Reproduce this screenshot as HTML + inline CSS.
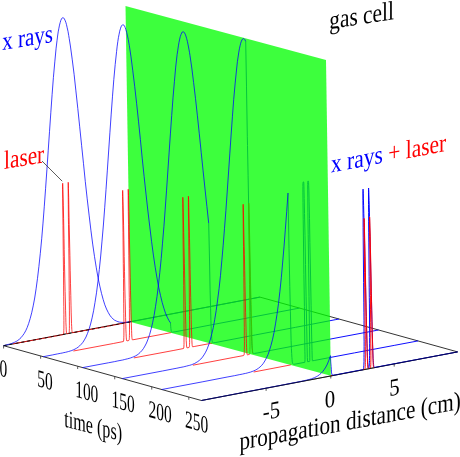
<!DOCTYPE html><html><head><meta charset="utf-8"><style>html,body{margin:0;padding:0;background:#fff;overflow:hidden}body{width:460px;height:457px;position:relative}</style></head><body><svg width="460" height="457" viewBox="0 0 460 457" style="position:absolute;left:0;top:0">
<rect width="460" height="457" fill="#fff"/>
<path d="M3.6,345.7L201.4,400.5L457.6,351.9L259.9,297.1 Z" fill="none" stroke="#000" stroke-width="0.8"/>
<path d="M3.60,345.70 l0,2.8" stroke="#333" stroke-width="0.8"/>
<path d="M40.64,355.96 l0,2.8" stroke="#333" stroke-width="0.8"/>
<path d="M77.68,366.22 l0,2.8" stroke="#333" stroke-width="0.8"/>
<path d="M114.72,376.49 l0,2.8" stroke="#333" stroke-width="0.8"/>
<path d="M151.76,386.75 l0,2.8" stroke="#333" stroke-width="0.8"/>
<path d="M188.81,397.01 l0,2.8" stroke="#333" stroke-width="0.8"/>
<path d="M266.10,388.10 l0,2.8" stroke="#333" stroke-width="0.8"/>
<path d="M330.80,375.70 l0,2.8" stroke="#333" stroke-width="0.8"/>
<path d="M394.20,363.80 l0,2.8" stroke="#333" stroke-width="0.8"/>
<g fill="none" stroke-width="0.95" stroke-linejoin="round">
<path d="M130.6,321.7L131.5,321.7L171.0,314.1L211.4,306.4L251.8,298.7L259.9,297.1" stroke="#0000ff"/>
<path d="" stroke="#ff0000"/>
<path d="M170.5,322.9L170.7,326.2L170.9,328.4L171.1,329.9L171.2,330.8L171.4,331.4L171.6,331.7L171.9,332.1L172.3,332.2L175.1,331.8L215.7,324.0L256.0,316.4L296.2,308.7L299.4,308.1" stroke="#0000ff"/>
<path d="M170.6,332.7L171.4,332.5" stroke="#ff0000"/>
<path d="M208.7,223.1L209.6,264.0L210.1,290.9L210.6,308.7L210.9,320.5L211.2,328.2L211.4,333.3L211.7,336.7L211.8,338.9L212.0,340.3L212.3,341.5L212.5,342.2L212.8,342.7L213.3,342.8L215.2,342.6L255.6,334.9L295.7,327.3L335.8,319.6L339.0,319.0" stroke="#0000ff"/>
<path d="M210.7,343.4L212.4,343.1" stroke="#ff0000"/>
<path d="M245.7,41.4L246.5,86.9L247.3,136.2L247.5,145.5L248.1,175.8L248.7,208.2L248.8,214.5L249.2,234.8L249.6,256.8L249.7,260.9L250.0,274.5L250.3,288.9L250.5,300.8L250.8,312.5L251.0,318.5L251.2,326.3L251.3,330.2L251.5,335.5L251.6,338.1L251.8,341.6L251.8,343.3L252.0,345.7L252.2,348.4L252.4,350.2L252.6,351.7L252.9,352.8L253.4,353.4L254.6,353.4L257.1,353.0L297.0,345.4L337.0,337.8L376.9,330.3L378.5,330.0" stroke="#0000ff"/>
<path d="M248.5,354.6L249.3,354.4L249.5,354.2L249.7,353.7L249.8,353.2L249.8,352.5L249.9,351.3L249.9,349.4L250.0,346.8L250.0,343.0L250.0,337.8L249.9,331.0L249.9,322.3L249.8,311.7L249.7,299.0L249.5,284.8L249.3,266.2L249.2,253.9L249.0,235.5L248.9,225.1L248.8,214.2L248.7,212.2L248.7,206.7L248.7,203.2L248.7,203.1L248.8,204.2L249.0,209.5L249.0,211.3L249.2,218.6L249.5,231.0L249.8,245.3L250.4,276.2L250.8,294.5L251.1,304.7L251.3,316.3L251.6,326.1L251.8,334.0L251.9,340.0L252.1,345.3L252.2,347.6L252.4,350.3L252.4,351.4L252.5,352.5L252.7,353.4L252.9,353.7" stroke="#ff0000"/>
<path d="M288.0,193.0L289.0,248.8L289.8,286.3L290.4,311.8L290.8,329.0L291.1,340.5L291.4,348.4L291.7,353.7L291.9,357.3L292.1,359.6L292.2,361.2L292.4,362.3L292.6,363.0L292.7,363.5L293.1,364.0L293.5,364.3L295.1,364.1L304.8,362.3L304.9,362.2L304.9,361.9L305.0,359.6L305.0,354.9L304.9,351.8L304.7,334.0L304.4,306.7L303.9,274.5L303.5,244.0L303.2,219.2L303.0,202.4L302.9,192.1L302.9,186.4L302.9,183.7L303.0,182.5L303.0,182.1L303.5,181.9L303.7,182.2L303.8,183.1L303.9,185.2L304.0,189.8L304.2,198.5L304.5,213.4L305.0,235.5L305.5,264.5L306.1,296.8L306.7,326.7L307.1,347.3L307.3,357.6L307.5,361.0L307.6,361.7L309.6,361.4L309.7,361.3L309.8,360.6L309.8,357.2L309.7,346.6L309.4,325.9L309.0,296.5L308.6,264.1L308.2,234.7L307.9,212.6L307.8,197.9L307.7,189.1L307.7,184.4L307.7,182.3L307.8,181.4L307.9,181.0L308.3,181.0L308.4,181.1L308.5,181.4L308.6,182.6L308.7,185.3L308.9,190.9L309.1,201.2L309.5,218.3L309.9,242.6L310.5,273.0L311.1,305.2L311.6,333.0L312.0,350.4L312.2,358.2L312.3,360.5L312.4,360.8L314.8,360.4L354.4,352.9L394.2,345.4L418.1,340.9" stroke="#0000ff"/>
<path d="M330.5,355.7L330.7,362.0L331.0,366.3L331.2,369.2L331.3,371.2L331.5,372.6L331.7,373.5L331.8,374.1L332.0,374.5L332.4,375.0L332.9,375.2L335.2,374.9L360.9,370.0L362.8,369.7L363.2,369.4L363.4,369.0L363.6,368.3L363.7,367.2L363.8,365.4L363.9,364.1L364.0,361.5L364.0,357.7L364.0,354.6L364.1,350.9L364.1,346.4L364.1,341.2L364.0,335.3L364.0,328.5L364.0,320.7L363.9,312.2L363.8,302.9L363.7,293.0L363.6,282.3L363.3,249.0L363.2,237.9L363.1,227.4L363.1,217.8L363.0,209.1L362.9,200.6L362.9,196.0L362.9,191.8L363.0,189.5L363.1,189.1L363.2,190.5L363.3,193.8L363.4,198.9L363.6,205.6L363.8,213.6L364.1,222.7L364.3,233.0L364.6,243.7L365.3,277.1L365.6,287.9L365.8,298.1L366.0,307.6L366.3,316.6L366.5,324.6L366.7,331.8L366.8,338.1L367.0,343.7L367.2,348.4L367.3,352.4L367.4,355.8L367.6,358.6L367.7,360.8L367.8,362.6L367.9,364.1L368.1,366.1L368.2,367.2L368.4,367.9L368.6,368.2L368.9,368.1L369.1,367.5L369.2,366.5L369.3,365.0L369.4,363.8L369.5,362.3L369.5,360.5L369.5,358.2L369.6,355.3L369.6,352.0L369.6,347.9L369.6,343.2L369.6,337.6L369.6,331.2L369.5,324.0L369.5,316.0L369.4,303.1L369.3,297.4L369.2,287.2L369.1,276.4L368.8,242.9L368.7,232.2L368.6,221.9L368.6,212.7L368.5,204.6L368.5,198.0L368.5,192.8L368.5,189.5L368.6,188.0L368.6,188.4L368.8,190.7L368.9,194.9L369.1,200.6L369.3,207.9L369.5,216.6L369.7,227.9L370.0,236.6L370.7,270.0L371.0,280.9L371.2,291.6L371.5,301.5L371.7,310.7L371.9,319.2L372.1,326.9L372.3,333.7L372.5,339.7L372.6,344.8L372.8,349.3L372.9,353.0L373.0,356.0L373.1,358.6L373.3,360.6L373.4,362.3L373.6,364.6L373.7,366.0L373.9,366.7L374.1,367.3L374.8,367.4L414.8,359.9L454.4,352.5L457.6,351.9" stroke="#0000ff"/>
<path d="M330.8,375.7L332.0,375.5M363.6,369.5L364.7,369.3L364.9,369.1L365.0,368.7L365.1,368.3L365.2,367.6L365.2,366.5L365.3,364.8L365.3,362.3L365.3,358.9L365.3,354.0L365.3,346.2L365.3,339.3L365.2,329.1L365.0,316.8L364.9,303.0L364.7,287.9L364.6,272.3L364.4,256.8L364.2,242.8L364.1,231.2L364.1,222.9L364.1,218.5L364.1,218.5L364.3,222.8L364.5,231.1L364.8,242.9L365.1,256.9L365.4,272.1L365.7,287.7L366.0,303.0L366.3,316.7L366.6,328.8L366.9,339.0L367.1,347.3L367.2,353.7L367.4,358.5L367.5,361.9L367.6,364.4L367.8,366.0L367.8,367.1L367.9,367.7L368.1,368.4L368.3,368.6M369.1,368.5L370.2,368.3L370.5,368.0L370.6,367.5L370.7,367.0L370.7,366.1L370.8,364.8L370.8,362.8L370.9,359.9L370.9,355.8L370.9,350.3L370.8,343.1L370.8,333.8L370.7,322.8L370.5,309.9L370.4,295.4L370.0,264.2L369.9,249.4L369.7,236.3L369.6,225.9L369.6,219.3L369.6,218.6L369.6,216.9L369.7,218.9L369.9,225.1L370.2,235.0L370.4,247.8L370.8,262.7L371.4,293.6L371.7,308.2L372.0,321.4L372.3,332.7L372.5,341.9L372.7,349.3L372.9,355.0L373.0,359.1L373.1,362.1L373.2,364.1L373.3,365.5L373.4,366.4L373.6,367.2L373.8,367.6" stroke="#ff0000"/>
</g>
<path d="M125.5,6.0L326.0,60.0L330.8,375.7L130.6,321.9 Z" fill="#00ff00" fill-opacity="0.76"/>
<g fill="none" stroke-width="0.75" stroke-linejoin="round">
<path d="M3.6,345.6L5.2,345.2L6.8,344.9L8.4,344.4L9.9,344.0L11.5,343.5L13.1,342.9L14.7,342.2L16.3,341.4L17.8,340.4L19.4,339.2L21.0,337.7L22.5,335.8L24.1,333.6L25.7,330.8L27.2,327.5L28.7,323.4L30.2,318.5L31.7,312.8L33.2,305.9L34.7,298.0L36.1,288.8L37.5,278.3L38.9,266.5L40.3,253.3L41.7,238.8L43.0,223.1L44.3,206.2L45.6,188.3L46.9,169.8L48.2,150.8L49.5,131.7L50.8,112.8L52.1,94.6L53.4,77.5L54.8,61.9L56.1,48.2L57.0,40.7L57.6,36.0L58.2,31.9L58.9,28.2L59.5,25.1L60.2,22.5L60.8,20.4L61.5,18.9L62.2,18.0L62.8,17.6L63.6,17.9L64.3,18.8L65.0,20.2L65.8,22.2L66.5,24.7L67.2,27.8L68.0,31.3L68.7,35.4L69.2,38.4L70.4,46.0L72.2,59.2L74.1,74.3L75.9,90.9L77.8,108.5L79.7,126.8L81.6,145.3L83.5,163.7L85.3,181.6L87.2,198.8L89.1,215.1L90.9,230.2L92.7,244.1L94.5,256.6L96.3,267.8L98.0,277.6L99.8,286.1L101.5,293.4L103.2,299.6L104.8,304.8L106.5,309.0L108.2,312.4L109.8,315.2L111.4,317.3L113.0,318.9L114.6,320.2L116.3,321.0L117.9,321.7L119.5,322.1L121.1,322.3L122.6,322.4L124.2,322.4L125.8,322.3L127.4,322.1L129.0,322.0L130.6,321.7" stroke="#0000ff"/>
<path d="M13.1,343.9L52.8,336.5L63.0,334.6L63.3,334.4L63.6,334.0L63.7,332.9L63.8,332.0L63.8,330.4L63.9,328.2L63.9,324.9L63.9,320.4L63.9,314.3L63.8,306.5L63.7,296.8L63.6,285.1L63.5,271.4L63.3,256.6L63.0,225.4L62.8,211.0L62.7,198.8L62.6,189.7L62.6,184.3L62.7,183.3L62.8,186.7L63.0,194.1L63.3,205.2L63.6,218.7L64.0,238.4L64.2,249.4L64.5,264.8L64.8,278.9L65.1,291.4L65.4,302.0L65.6,310.8L65.8,317.6L65.9,322.7L66.1,326.4L66.2,329.1L66.3,330.9L66.4,332.1L66.5,332.8L66.6,333.5L66.9,333.8L68.7,333.5L69.0,333.2L69.2,332.8L69.2,332.3L69.3,331.5L69.3,330.3L69.4,328.5L69.4,325.8L69.4,322.0L69.4,316.9L69.4,310.1L69.3,301.3L69.2,290.6L69.1,278.1L69.0,264.0L68.8,248.5L68.5,224.7L68.4,217.8L68.3,204.3L68.2,193.2L68.2,185.7L68.2,182.3L68.3,183.2L68.4,188.6L68.7,197.7L68.9,209.9L69.2,224.2L69.9,255.4L70.2,270.2L70.5,283.8L70.8,295.5L71.0,305.2L71.2,312.9L71.4,319.0L71.5,323.5L71.7,326.7L71.8,329.4L71.9,330.4L72.0,331.4L72.1,332.4L72.4,332.7L74.0,332.5L114.7,324.9L122.7,323.4" stroke="#ff0000"/>
<path d="M43.2,356.7L52.7,354.9L57.5,353.9L60.7,353.3L62.3,353.0L63.9,352.6L65.5,352.3L67.1,351.9L68.6,351.5L70.2,351.0L71.8,350.5L73.4,349.8L75.0,349.1L76.6,348.2L78.2,347.1L79.7,345.8L81.3,344.2L82.9,342.3L84.4,339.9L86.0,337.0L87.5,333.4L89.1,329.1L90.6,324.0L92.1,317.9L93.6,310.7L95.0,302.4L96.5,292.8L97.9,281.9L99.3,269.6L100.7,256.0L102.0,241.1L103.4,225.0L104.7,207.8L106.0,189.7L107.3,170.9L109.9,132.8L111.2,114.1L112.5,96.2L113.8,79.6L115.2,64.5L116.6,51.4L117.2,46.1L117.8,41.7L118.4,37.7L119.1,34.2L119.7,31.2L120.4,28.8L121.0,26.9L121.7,25.6L122.4,24.9L123.1,24.7L123.8,25.1L124.5,26.1L125.2,27.6L125.9,29.7L126.7,32.4L127.5,36.0L128.3,39.7L129.0,43.9L129.3,45.4L131.0,56.9L132.8,70.8L134.7,86.4L136.6,103.3L138.5,121.2L140.4,139.6L142.2,158.1L144.1,176.4L146.0,194.1L147.9,211.0L149.8,226.9L151.6,241.7L153.4,255.1L155.2,267.2L157.0,278.0L158.7,287.4L160.5,295.5L162.2,302.5L163.9,308.3L165.5,313.2L167.2,317.1L168.8,320.3L170.5,322.9" stroke="#0000ff"/>
<path d="M73.4,351.0L113.3,343.5L123.0,341.6L123.4,341.5L123.6,341.0L123.7,340.0L123.8,339.0L123.8,337.5L123.9,335.2L123.9,332.0L123.9,327.5L123.9,321.4L123.8,313.5L123.7,303.8L123.6,291.7L123.5,278.5L123.3,263.6L123.0,232.6L122.8,218.0L122.7,205.8L122.6,196.7L122.6,191.4L122.7,190.4L122.8,193.8L123.0,201.2L123.3,212.1L123.6,225.8L123.9,240.9L124.2,256.5L124.5,271.7L124.8,286.0L125.1,298.5L125.4,309.1L125.6,317.7L125.8,324.6L125.9,329.7L126.1,333.5L126.2,336.1L126.3,337.9L126.4,339.1L126.5,339.9L126.6,340.6L127.0,340.9L128.7,340.5L129.0,340.3L129.2,339.7L129.3,338.6L129.4,337.4L129.4,335.5L129.5,332.9L129.5,329.1L129.5,323.9L129.4,317.1L129.4,308.4L129.3,297.7L129.1,285.1L129.0,271.0L128.8,255.8L128.6,239.9L128.5,224.8L128.3,211.3L128.2,200.3L128.2,192.7L128.2,189.3L128.3,190.3L128.5,195.6L128.7,204.8L129.0,217.0L129.3,231.3L129.9,262.5L130.2,277.3L130.5,290.7L130.8,302.5L131.0,312.2L131.2,320.0L131.4,326.0L131.6,330.6L131.7,333.8L131.8,336.0L131.9,337.5L132.0,338.4L132.2,339.4L132.4,339.8L134.0,339.6L170.6,332.7" stroke="#ff0000"/>
<path d="M82.7,367.6L108.3,362.8L114.7,361.6L117.9,360.9L121.1,360.3L122.7,360.0L124.3,359.6L125.9,359.2L127.5,358.8L129.1,358.4L130.7,357.9L132.3,357.3L133.9,356.7L135.5,355.9L137.1,355.0L138.7,353.8L140.2,352.4L141.8,350.7L143.4,348.6L144.9,346.1L146.5,343.0L148.0,339.2L149.6,334.6L151.1,329.2L152.6,322.8L154.1,315.3L155.5,306.6L157.0,296.6L158.4,285.2L159.8,272.6L161.2,258.6L162.5,243.2L163.9,226.8L165.2,209.2L166.5,190.9L167.8,172.0L169.1,152.9L170.4,133.9L171.7,115.5L173.0,97.9L174.4,81.7L175.7,67.1L177.1,54.7L177.8,50.1L178.4,45.9L179.0,42.3L179.7,39.1L180.3,36.5L181.0,34.5L181.7,33.0L182.3,32.0L183.0,31.7L183.7,31.9L184.4,32.7L185.2,34.1L185.9,36.0L186.6,38.4L187.4,41.4L188.1,44.9L188.9,49.0L189.5,52.4L190.0,55.6L191.8,68.0L193.6,82.5L195.5,98.5L197.4,115.8L199.3,133.8L201.2,152.3L203.1,170.8L205.0,188.9L206.9,206.4L208.7,223.1" stroke="#0000ff"/>
<path d="M133.9,357.9L173.9,350.4L183.1,348.6L183.5,348.5L183.7,348.0L183.9,347.0L183.9,346.0L184.0,344.5L184.0,342.2L184.0,339.0L184.1,334.5L184.0,328.4L184.0,320.5L183.9,310.8L183.8,299.1L183.7,285.6L183.5,270.6L183.1,239.6L183.0,225.2L182.9,212.8L182.8,207.8L182.8,203.7L182.8,198.4L182.8,197.3L183.0,200.8L183.2,208.2L183.4,219.1L183.7,232.6L184.0,247.9L184.4,263.5L184.7,278.7L185.0,292.9L185.3,305.5L185.5,316.1L185.8,324.8L185.9,331.5L186.1,336.8L186.2,340.5L186.4,343.1L186.5,344.9L186.6,346.1L186.7,347.0L186.8,347.6L187.1,347.8L188.9,347.5L189.2,347.3L189.4,346.8L189.4,346.3L189.5,345.6L189.5,344.3L189.6,342.5L189.6,339.9L189.6,336.1L189.6,330.9L189.6,324.1L189.5,315.4L189.4,304.6L189.3,292.1L189.2,277.9L189.0,262.7L188.8,246.8L188.7,231.7L188.5,218.2L188.4,207.3L188.4,199.7L188.4,196.3L188.5,197.3L188.7,202.5L188.9,211.8L189.2,224.0L189.5,238.3L190.1,269.5L190.4,284.3L190.7,297.7L191.0,309.4L191.2,319.3L191.4,327.0L191.6,333.0L191.8,337.5L191.9,340.7L192.0,343.0L192.1,344.5L192.2,345.4L192.4,346.4L192.6,346.8L194.2,346.5L210.7,343.4" stroke="#ff0000"/>
<path d="M122.3,378.6L162.4,371.0L172.1,369.1L176.9,368.2L180.1,367.5L183.3,366.9L184.9,366.5L186.5,366.1L188.1,365.7L189.7,365.3L191.3,364.8L192.9,364.2L194.5,363.5L196.1,362.6L197.7,361.6L199.3,360.4L200.9,359.0L202.5,357.1L204.0,354.9L205.6,352.2L207.2,348.9L208.7,344.8L210.2,340.0L211.7,334.3L213.3,327.5L214.7,319.7L216.2,310.5L217.6,300.1L219.1,288.4L220.5,275.3L221.8,260.9L223.2,245.2L224.5,228.3L225.9,210.5L227.2,192.0L228.5,173.0L229.8,153.9L231.1,135.0L232.4,116.8L233.7,99.6L235.1,83.9L236.5,70.0L237.4,61.7L238.1,57.0L238.7,52.9L239.4,48.8L240.1,45.7L240.7,43.2L241.4,41.2L242.1,39.8L242.7,38.9L243.4,38.6L244.1,38.9L244.9,39.7L245.6,41.2L245.7,41.4" stroke="#0000ff"/>
<path d="M192.9,365.2L233.1,357.5L243.4,355.6L243.8,355.4L244.0,355.0L244.2,353.9L244.3,352.6L244.3,351.4L244.3,349.2L244.4,345.9L244.4,341.4L244.3,335.4L244.3,327.6L244.2,317.7L244.1,306.0L244.0,292.5L243.8,277.7L243.5,246.4L243.3,232.1L243.2,219.9L243.1,210.6L243.1,205.3L243.2,204.3L243.3,207.6L243.5,215.2L243.7,226.1L244.0,239.6L244.4,254.7L244.7,270.5L245.0,285.7L245.3,299.8L245.6,312.3L245.9,323.1L246.1,331.7L246.3,338.5L246.4,343.7L246.6,347.4L246.7,350.1L246.8,351.8L246.9,353.0L247.0,353.8L247.1,354.5L247.5,354.8L248.4,354.6" stroke="#ff0000"/>
<path d="M161.8,389.5L202.1,381.9L227.9,376.9L234.4,375.7L239.2,374.7L242.4,374.1L244.0,373.7L245.6,373.4L247.2,373.0L248.9,372.5L250.5,372.1L252.1,371.5L253.7,370.9L255.3,370.2L256.9,369.3L258.5,368.2L260.1,366.9L261.7,365.4L263.3,363.4L264.8,361.0L266.4,358.1L268.0,354.6L269.5,350.3L271.0,345.3L272.6,339.2L274.1,332.1L275.5,323.9L277.0,314.4L278.5,303.5L279.9,291.4L281.3,277.8L282.6,263.0L284.0,246.9L285.3,229.8L286.7,211.7L288.0,193.0" stroke="#0000ff"/>
<path d="M253.7,372.0L290.8,364.9" stroke="#ff0000"/>
<path d="M201.4,400.5L241.8,392.7L282.3,385.0L292.0,383.1L296.8,382.2L300.1,381.5L303.3,380.9L304.9,380.5L306.5,380.1L308.2,379.7L309.8,379.3L311.4,378.8L313.0,378.2L314.6,377.6L316.2,376.8L317.8,375.9L319.4,374.7L321.0,373.4L322.6,371.7L324.2,369.6L325.8,367.1L327.4,364.0L328.9,360.2L330.5,355.7" stroke="#0000ff"/>
</g>
<path d="M201.4,400.5L457.6,351.9" fill="none" stroke="#000" stroke-width="0.8" stroke-opacity="0.75"/>
<path d="M3.6,345.7L130.6,321.9" fill="none" stroke="#000" stroke-width="0.8" stroke-dasharray="3 3"/>
<path d="M42,161 L62.2,181.2" stroke="#333" stroke-width="0.8"/>
<g font-family="'Liberation Serif', serif">
<text transform="matrix(0.8100 -0.1280 0 1 2.20 49.90)" font-size="26" fill="#0000ff">x rays</text>
<text transform="matrix(0.8200 -0.1361 0 1 4.00 169.00)" font-size="26" fill="#ff0000">laser</text>
<text transform="matrix(0.8050 -0.1272 0 1 329.30 29.30)" font-size="26.5" fill="#000">gas cell</text>
<text transform="matrix(0.8260 -0.1545 0 1 331.00 172.50)" font-size="26" fill="#0000ff">x rays <tspan fill="#ff0000">+ laser</tspan></text>
<text transform="matrix(0.6450 0.1645 0 1 64.30 426.50)" font-size="25" fill="#000">time (ps)</text>
<text transform="matrix(0.8150 -0.1516 0 1 239.50 450.00)" font-size="26" fill="#000">propagation distance (cm)</text>
<text transform="matrix(0.6300 0.1745 0 1 -0.40 375.59)" font-size="24.5" fill="#000">0</text>
<text transform="matrix(0.6300 0.1745 0 1 37.34 386.05)" font-size="24.5" fill="#000">50</text>
<text transform="matrix(0.6300 0.1745 0 1 75.18 396.53)" font-size="24.5" fill="#000">100</text>
<text transform="matrix(0.6300 0.1745 0 1 111.52 406.60)" font-size="24.5" fill="#000">150</text>
<text transform="matrix(0.6300 0.1745 0 1 148.46 416.83)" font-size="24.5" fill="#000">200</text>
<text transform="matrix(0.6300 0.1745 0 1 185.01 426.96)" font-size="24.5" fill="#000">250</text>
<text transform="matrix(0.8500 -0.1612 0 1 262.70 420.24)" font-size="24.5" fill="#000">-5</text>
<text transform="matrix(0.8500 -0.1612 0 1 324.80 408.34)" font-size="24.5" fill="#000">0</text>
<text transform="matrix(0.8500 -0.1612 0 1 389.20 396.25)" font-size="24.5" fill="#000">5</text>
</g>
</svg></body></html>
